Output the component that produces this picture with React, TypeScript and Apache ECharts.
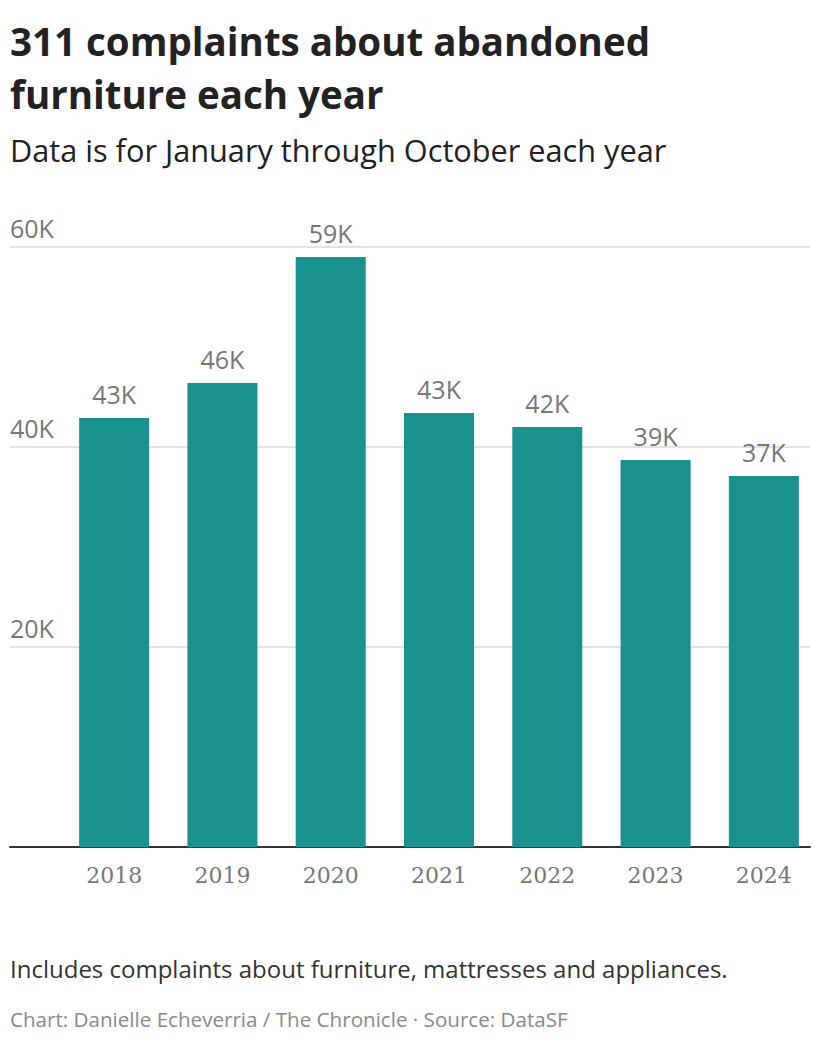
import React, { useEffect, useRef } from "react";
import * as echarts from "echarts";

const years = ["2018", "2019", "2020", "2021", "2022", "2023", "2024"];
const complaints = [42900, 46400, 59000, 43400, 42000, 38700, 37100];
const yTicks = [0, 20000, 40000, 60000];

const titleLines = ["311 complaints about abandoned", "furniture each year"];
const subtitle = "Data is for January through October each year";
const note = "Includes complaints about furniture, mattresses and appliances.";
const credit = "Chart: Danielle Echeverria / The Chronicle \u00b7 Source: DataSF";

const BAR = "#18918f";
const SANS = "'Open Sans', Roboto, sans-serif";

export default function App() {
  const ref = useRef<HTMLDivElement>(null);
  useEffect(() => {
    if (!ref.current) return;
    const chart = echarts.init(ref.current, undefined, { renderer: "svg" });
    const yMax = yTicks[yTicks.length - 1];
    chart.setOption({
      animation: false,
      backgroundColor: "#ffffff",
      graphic: [
        {
          type: "text",
          left: 10,
          top: 15,
          style: {
            text: titleLines.join("\n"),
            font: `bold 38.5px ${SANS}`,
            lineHeight: 52.5,
            fill: "#222",
          },
        },
        {
          type: "text",
          left: 10,
          top: 134,
          style: { text: subtitle, font: `30.7px ${SANS}`, fill: "#222" },
        },
        {
          type: "text",
          left: 10,
          top: 956,
          style: { text: note, font: `24px ${SANS}`, fill: "#333" },
        },
        {
          type: "text",
          left: 10,
          top: 1008,
          style: { text: credit, font: `20.6px ${SANS}`, fill: "#8a8a8a" },
        },
      ],
      grid: [
        { left: 10, width: 800, top: 247, height: 600 },
        { left: 60, width: 758, top: 247, height: 600 },
      ],
      xAxis: [
        {
          type: "category",
          gridIndex: 0,
          data: years,
          axisLine: { show: true, lineStyle: { color: "#333", width: 2 } },
          axisTick: { show: false },
          axisLabel: { show: false },
        },
        {
          type: "category",
          gridIndex: 1,
          data: years,
          axisLine: { show: false },
          axisTick: { show: false },
          axisLabel: {
            margin: 17,
            fontSize: 22,
            color: "#777",
            fontFamily: "'DejaVu Serif', serif",
          },
        },
      ],
      yAxis: [
        {
          type: "value",
          gridIndex: 0,
          min: 0,
          max: yMax,
          interval: 20000,
          axisLine: { show: false },
          axisTick: { show: false },
          splitLine: { lineStyle: { color: "#e3e3e3", width: 2 } },
          axisLabel: {
            inside: true,
            margin: 0,
            verticalAlign: "bottom",
            padding: [0, 0, 7, 0],
            fontSize: 25,
            color: "#777",
            fontFamily: SANS,
            formatter: (v: number) => (v === 0 ? "" : `${v / 1000}K`),
          },
        },
        {
          type: "value",
          gridIndex: 1,
          min: 0,
          max: yMax,
          interval: 20000,
          show: false,
          splitLine: { show: false },
        },
      ],
      series: [
        {
          type: "bar",
          xAxisIndex: 1,
          yAxisIndex: 1,
          data: complaints,
          barWidth: 70,
          itemStyle: { color: BAR },
          label: {
            show: true,
            position: "top",
            distance: 12,
            fontSize: 25,
            color: "#777",
            fontFamily: SANS,
            formatter: (p: any) => `${Math.round(p.value / 1000)}K`,
          },
        },
      ],
    });
    return () => chart.dispose();
  }, []);
  return (
    <div
      ref={ref}
      style={{ position: "absolute", left: 0, top: 0, width: 820, height: 1048 }}
    />
  );
}
